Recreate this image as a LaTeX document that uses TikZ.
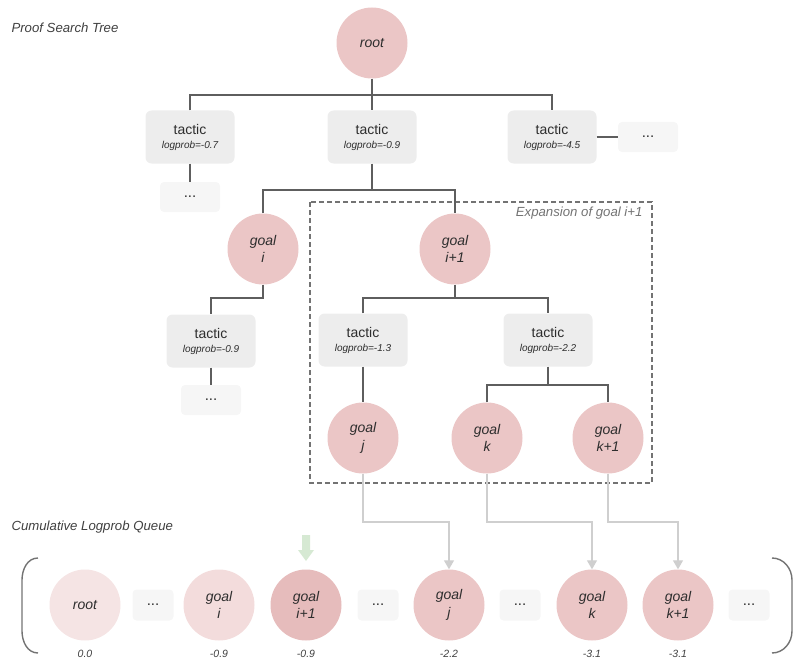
\documentclass[tikz,border=0pt]{standalone}
\usepackage{fontspec}
\setmainfont{Liberation Sans}
\usetikzlibrary{arrows.meta}
\definecolor{pinkc}{HTML}{EBC6C6}
\definecolor{pinkroot}{HTML}{F5E4E4}
\definecolor{pinki}{HTML}{F3DCDC}
\definecolor{pinkii}{HTML}{E6BCBC}
\definecolor{tacfill}{HTML}{EDEDED}
\definecolor{dotfill}{HTML}{F6F6F6}
\definecolor{edgec}{HTML}{5E5E5E}
\definecolor{arrc}{HTML}{CFCFCF}
\definecolor{greenc}{HTML}{D6E9D3}
\definecolor{txtc}{HTML}{2E2E2E}
\definecolor{lblc}{HTML}{404040}
\begin{document}
\begin{tikzpicture}[x=1pt,y=-1pt,
  goalnode/.style={circle,fill=pinkc,minimum size=71pt,inner sep=0pt,align=center,
    font=\fontsize{14}{17.5}\selectfont\itshape,text=txtc},
  tacnode/.style={rectangle,rounded corners=6pt,fill=tacfill,minimum width=89pt,minimum height=53pt,
    inner sep=0pt,align=center,text=txtc},
  dotnode/.style={rectangle,rounded corners=4pt,fill=dotfill,minimum width=60pt,minimum height=30pt,
    inner sep=0pt,font=\fontsize{15}{16}\selectfont,text=txtc},
  qdot/.style={dotnode,minimum width=41pt,minimum height=31pt},
  treeedge/.style={draw=edgec,line width=1.25pt},
  qarrow/.style={draw=arrc,line width=1.3pt,-{Triangle[length=9pt,width=10pt]}},
  valnode/.style={font=\fontsize{10.5}{12}\selectfont\itshape,text=lblc},
  titlenode/.style={anchor=west,font=\fontsize{13.2}{15}\selectfont\itshape,text=lblc}
]
\useasboundingbox (0,0) rectangle (800,666);
\newcommand{\tac}[1]{{\fontsize{14}{15}\selectfont tactic}\\[2pt]{\fontsize{10}{11}\selectfont\itshape logprob=#1}}

\node[titlenode] (title1) at (8,28) {Proof Search Tree};
\node[titlenode] (title2) at (8,527) {Cumulative Logprob Queue};

% dashed expansion box
\draw[draw=gray!90!black,line width=1.2pt,dash pattern=on 5pt off 3pt] (310,202) rectangle (652,483);
\node[anchor=east,font=\fontsize{13.2}{15}\selectfont\itshape,text=gray!90!black] (explbl) at (646,213) {Expansion of goal i+1};

% tree nodes
\node[goalnode] (root) at (372,43) {root};
\node[tacnode] (t1) at (190,137) {\tac{-0.7}};
\node[tacnode] (t2) at (372,137) {\tac{-0.9}};
\node[tacnode] (t3) at (552,137) {\tac{-4.5}};
\node[dotnode] (d1) at (190,197) {...};
\node[dotnode] (d3) at (648,137) {...};
\node[goalnode] (gi) at (263,249) {goal\\i};
\node[goalnode] (gi1) at (455,249) {goal\\i+1};
\node[tacnode] (t4) at (211,341) {\tac{-0.9}};
\node[dotnode] (d4) at (211,400) {...};
\node[tacnode] (t5) at (363,340) {\tac{-1.3}};
\node[tacnode] (t6) at (548,340) {\tac{-2.2}};
\node[goalnode] (gj) at (363,438) {goal\\j};
\node[goalnode] (gk) at (487,438) {goal\\k};
\node[goalnode] (gk1) at (608,438) {goal\\k+1};

% tree edges
\coordinate (b1) at (372,95);
\coordinate (b2) at (372,190);
\coordinate (b3) at (263,298);
\coordinate (b4) at (455,298);
\coordinate (b5) at (548,385);
\draw[treeedge] (root.south) -- (b1);
\draw[treeedge] (t1.north) |- (b1) -| (t3.north);
\draw[treeedge] (b1) -- (t2.north);
\draw[treeedge] (t1.south) -- (d1.north);
\draw[treeedge] (t3.east) -- (d3.west);
\draw[treeedge] (t2.south) -- (b2);
\draw[treeedge] (gi.north) |- (b2) -| (gi1.north);
\draw[treeedge] (gi.south) -- (b3) -| (t4.north);
\draw[treeedge] (t4.south) -- (d4.north);
\draw[treeedge] (gi1.south) -- (b4);
\draw[treeedge] (t5.north) |- (b4) -| (t6.north);
\draw[treeedge] (t5.south) -- (gj.north);
\draw[treeedge] (t6.south) -- (b5);
\draw[treeedge] (gk.north) |- (b5) -| (gk1.north);

% queue
\node[goalnode,fill=pinkroot] (qroot) at (85,605) {root};
\node[qdot] (qd1) at (153,605) {...};
\node[goalnode,fill=pinki] (qi) at (219,605) {goal\\i};
\node[goalnode,fill=pinkii] (qi1) at (306,605) {goal\\i+1};
\node[qdot] (qd2) at (378,605) {...};
\node[goalnode] (qj) at (449,605) {goal\\j};
\node[qdot] (qd3) at (520,605) {...};
\node[goalnode] (qk) at (592,605) {goal\\k};
\node[goalnode] (qk1) at (678,605) {goal\\k+1};
\node[qdot] (qd4) at (749,605) {...};

\node[valnode] (v1) at (85,654) {0.0};
\node[valnode] (v2) at (219,654) {-0.9};
\node[valnode] (v3) at (306,654) {-0.9};
\node[valnode] (v4) at (449,654) {-2.2};
\node[valnode] (v5) at (592,654) {-3.1};
\node[valnode] (v6) at (678,654) {-3.1};

% brackets
\draw[draw=gray!90!black,line width=1.4pt] (38,558) to[out=180,in=90] (22,580) -- (22,631) to[out=-90,in=180] (38,653);
\draw[draw=gray!90!black,line width=1.4pt] (772,558) to[out=0,in=90] (792,580) -- (792,631) to[out=-90,in=0] (772,653);

% queue arrows
\coordinate (c1) at (363,522);
\coordinate (c2) at (487,522);
\coordinate (c3) at (608,522);
\draw[qarrow] (gj.south) -- (c1) -| (qj.north);
\draw[qarrow] (gk.south) -- (c2) -| (qk.north);
\draw[qarrow] (gk1.south) -- (c3) -| (qk1.north);

% green pointer
\fill[greenc] (302,535) -- (310,535) -- (310,550) -- (314,550) -- (306,561) -- (298,550) -- (302,550) -- cycle;
\end{tikzpicture}
\end{document}
